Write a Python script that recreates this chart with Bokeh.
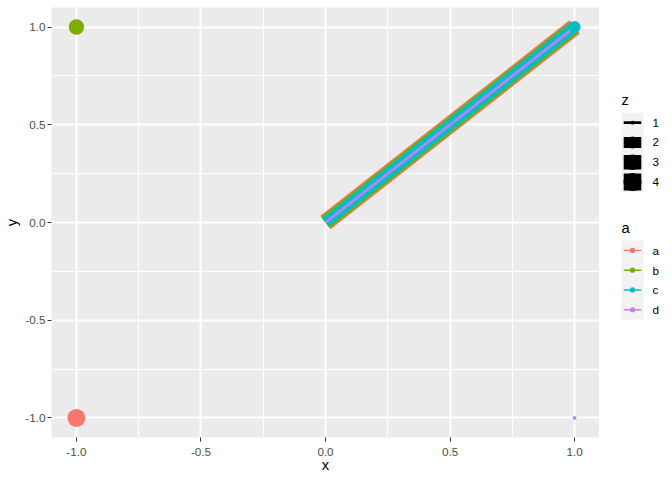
from bokeh.plotting import figure
from bokeh.models import Range1d, FixedTicker, NumeralTickFormatter, ColumnDataSource
from bokeh.layouts import row
from bokeh.core.properties import value
from bokeh.embed import file_html
from bokeh.resources import INLINE

# ---- data ----
groups = ["a", "b", "c", "d"]
z = [4, 3, 2, 1]
pt_x = [-1, -1, 1, 1]
pt_y = [-1, 1, 1, -1]
seg_x0 = [0, 0, 0, 0]
seg_y0 = [0, 0, 0, 0]
seg_x1 = [1, 1, 1, 1]
seg_y1 = [1, 1, 1, 1]
z_levels = [1, 2, 3, 4]
x_ticks = [-1.0, -0.5, 0.0, 0.5, 1.0]
y_ticks = [-1.0, -0.5, 0.0, 0.5, 1.0]
minor_ticks = [-0.75, -0.25, 0.25, 0.75]

# ---- styles ----
FONT = "Liberation Sans"
palette = {"a": "#F8766D", "b": "#7CAE00", "c": "#00BFC4", "d": "#C77CFF"}
line_px = {1: 2.8, 2: 11.0, 3: 14.4, 4: 17.0}
point_px = {1: 3.8, 2: 12.0, 3: 15.4, 4: 18.0}

src = ColumnDataSource(dict(
    x=pt_x, y=pt_y, x0=seg_x0, y0=seg_y0, x1=seg_x1, y1=seg_y1,
    color=[palette[g] for g in groups],
    lw=[line_px[v] for v in z],
    sz=[point_px[v] for v in z],
))

p = figure(width=599, height=478, x_range=Range1d(-1.1, 1.1), y_range=Range1d(-1.1, 1.1),
           toolbar_location=None, output_backend="svg",
           min_border_left=51, min_border_right=0, min_border_top=7, min_border_bottom=41,
           background_fill_color="#EBEBEB", border_fill_color="white", outline_line_color=None)

p.segment(x0="x0", y0="y0", x1="x1", y1="y1", source=src, line_color="color",
          line_width="lw", line_cap="butt")
p.scatter(x="x", y="y", source=src, size="sz", fill_color="color", line_color=None)

p.xaxis.ticker = FixedTicker(ticks=x_ticks, minor_ticks=minor_ticks)
p.yaxis.ticker = FixedTicker(ticks=y_ticks, minor_ticks=minor_ticks)
for ax, lab in ((p.xaxis, "x"), (p.yaxis, "y")):
    ax.axis_label = lab
    ax.formatter = NumeralTickFormatter(format="0.0")
    ax.axis_line_color = None
    ax.major_tick_line_color = "#333333"
    ax.major_tick_line_width = 1
    ax.major_tick_in = 0
    ax.major_tick_out = 4
    ax.minor_tick_line_color = None
    ax.major_label_text_font = FONT
    ax.major_label_text_font_size = "11.7px"
    ax.major_label_text_color = "#4D4D4D"
    ax.axis_label_text_font = FONT
    ax.axis_label_text_font_size = "14.7px"
    ax.axis_label_text_font_style = "normal"
    ax.axis_label_text_color = "black"
p.xaxis.major_label_standoff = 6
p.xaxis.axis_label_standoff = -2
p.yaxis.major_label_standoff = 2
p.yaxis.axis_label_standoff = 2

for g in (p.xgrid, p.ygrid):
    g.grid_line_color = "white"
    g.grid_line_width = 1.9
    g.minor_grid_line_color = "white"
    g.minor_grid_line_width = 0.95

# ---- legend panel ----
LW, LH = 73, 478
leg = figure(width=LW, height=LH, x_range=Range1d(0, LW), y_range=Range1d(LH, 0),
             toolbar_location=None, output_backend="svg", min_border=0,
             x_axis_location=None, y_axis_location=None, outline_line_color=None,
             background_fill_color="white", border_fill_color="white")
leg.grid.visible = False

KEY = 22
key_left = 22
key_cx = key_left + KEY / 2
lab_x = 53
z_title_y = 103
z_first = 128
a_title_y = 245
a_first = 270

z_cy = [z_first + KEY * i for i in range(len(z_levels))]
a_cy = [a_first + KEY * i for i in range(len(groups))]

leg.rect(x=[key_cx] * 8, y=z_cy + a_cy, width=KEY, height=KEY,
         fill_color="#F2F2F2", line_color=None)
# z keys
leg.segment(x0=[key_left + 0.1 * KEY] * 4, x1=[key_left + 0.9 * KEY] * 4, y0=z_cy, y1=z_cy,
            line_width=[line_px[v] for v in z_levels], line_color="black", line_cap="butt")
leg.scatter(x=[key_cx] * 4, y=z_cy, size=[point_px[v] for v in z_levels],
            fill_color="black", line_color=None)
# a keys
leg.segment(x0=[key_left + 0.1 * KEY] * 4, x1=[key_left + 0.9 * KEY] * 4, y0=a_cy, y1=a_cy,
            line_width=1.42, line_color=[palette[g] for g in groups], line_cap="butt")
leg.scatter(x=[key_cx] * 4, y=a_cy, size=5.2,
            fill_color=[palette[g] for g in groups], line_color=None)

leg.text(x=[lab_x] * 8, y=z_cy + a_cy, text=[str(v) for v in z_levels] + groups,
         text_font=value(FONT), text_font_size="11.7px", text_baseline="middle",
         text_align="left", text_color="black")
leg.text(x=[key_left, key_left], y=[z_title_y, a_title_y], text=["z", "a"],
         text_font=value(FONT), text_font_size="14.7px", text_baseline="middle",
         text_align="left", text_color="black")

layout = row(p, leg)
open("out.html", "w").write(file_html(layout, INLINE))
